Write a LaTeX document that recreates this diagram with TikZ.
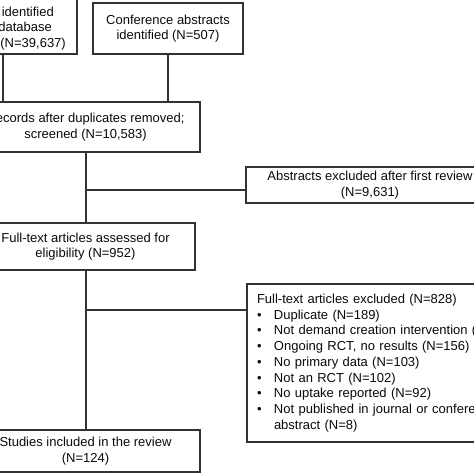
\documentclass[tikz,border=0pt]{standalone}
\usepackage{fontspec}
\setmainfont{Liberation Sans}
\definecolor{linegray}{RGB}{50,50,50}
\definecolor{txtgray}{RGB}{10,10,10}
\begin{document}
\begin{tikzpicture}[x=1pt,y=-1pt,
  box/.style={draw=linegray, line width=2pt, inner sep=0pt, align=center,
    text=txtgray, font=\fontsize{13}{15.7}\selectfont},
  txt/.style={inner sep=0pt, text=txtgray, font=\fontsize{13}{15.7}\selectfont},
  conn/.style={draw=linegray, line width=2pt}]
\useasboundingbox (0,0) rectangle (474,474);
\clip (0,0) rectangle (474,474);
\fill[white] (0,0) rectangle (474,474);
% boxes
\node[box, minimum width=157pt, minimum height=64pt] (db) at (-1.5,22) {};
\node[txt, align=right, anchor=east] (dbtxt) at (66,28.5) {identified\kern12pt\\database\kern14pt\\(N=39,637)};
\node[box, minimum width=150pt, minimum height=51pt] (conf) at (168,28.5) {Conference abstracts\\identified (N=507)};
\node[box, minimum width=229pt, minimum height=50pt] (rec) at (85.5,127) {Records after duplicates removed;\\screened (N=10,583)};
\node[box, minimum width=248pt, minimum height=36pt] (abs) at (370,185) {Abstracts excluded after first review\\(N=9,631)};
\node[box, minimum width=219pt, minimum height=47pt] (full) at (85.5,246.5) {Full-text articles assessed for\\eligibility (N=952)};
\node[box, anchor=west, text width=262pt, inner xsep=10pt, minimum height=158pt, align=left] (excl) at (246,363) {Full-text articles excluded (N=828)\\
\makebox[17pt][l]{•}Duplicate (N=189)\\
\makebox[17pt][l]{•}Not demand creation intervention (\\
\makebox[17pt][l]{•}Ongoing RCT, no results (N=156)\\
\makebox[17pt][l]{•}No primary data (N=103)\\
\makebox[17pt][l]{•}Not an RCT (N=102)\\
\makebox[17pt][l]{•}No uptake reported (N=92)\\
\makebox[17pt][l]{•}Not published in journal or conference\\
\hspace*{17pt}abstract (N=8)};
\node[box, minimum width=229pt, minimum height=42pt] (stud) at (85.5,451) {Studies included in the review\\(N=124)};
% helper coordinates
\coordinate (c1) at (3,0);
\coordinate (b1) at (0,189.5);
\coordinate (b2) at (0,309.5);
% connectors
\draw[conn] (db.south -| c1) -- (rec.north -| c1);
\draw[conn] (conf.south) -- (conf.south |- rec.north);
\draw[conn] (rec.south) -- (full.north);
\draw[conn] (rec.south |- b1) -- (abs.west |- b1);
\draw[conn] (full.south) -- (stud.north);
\draw[conn] (full.south |- b2) -- (excl.west |- b2);
\end{tikzpicture}
\end{document}
